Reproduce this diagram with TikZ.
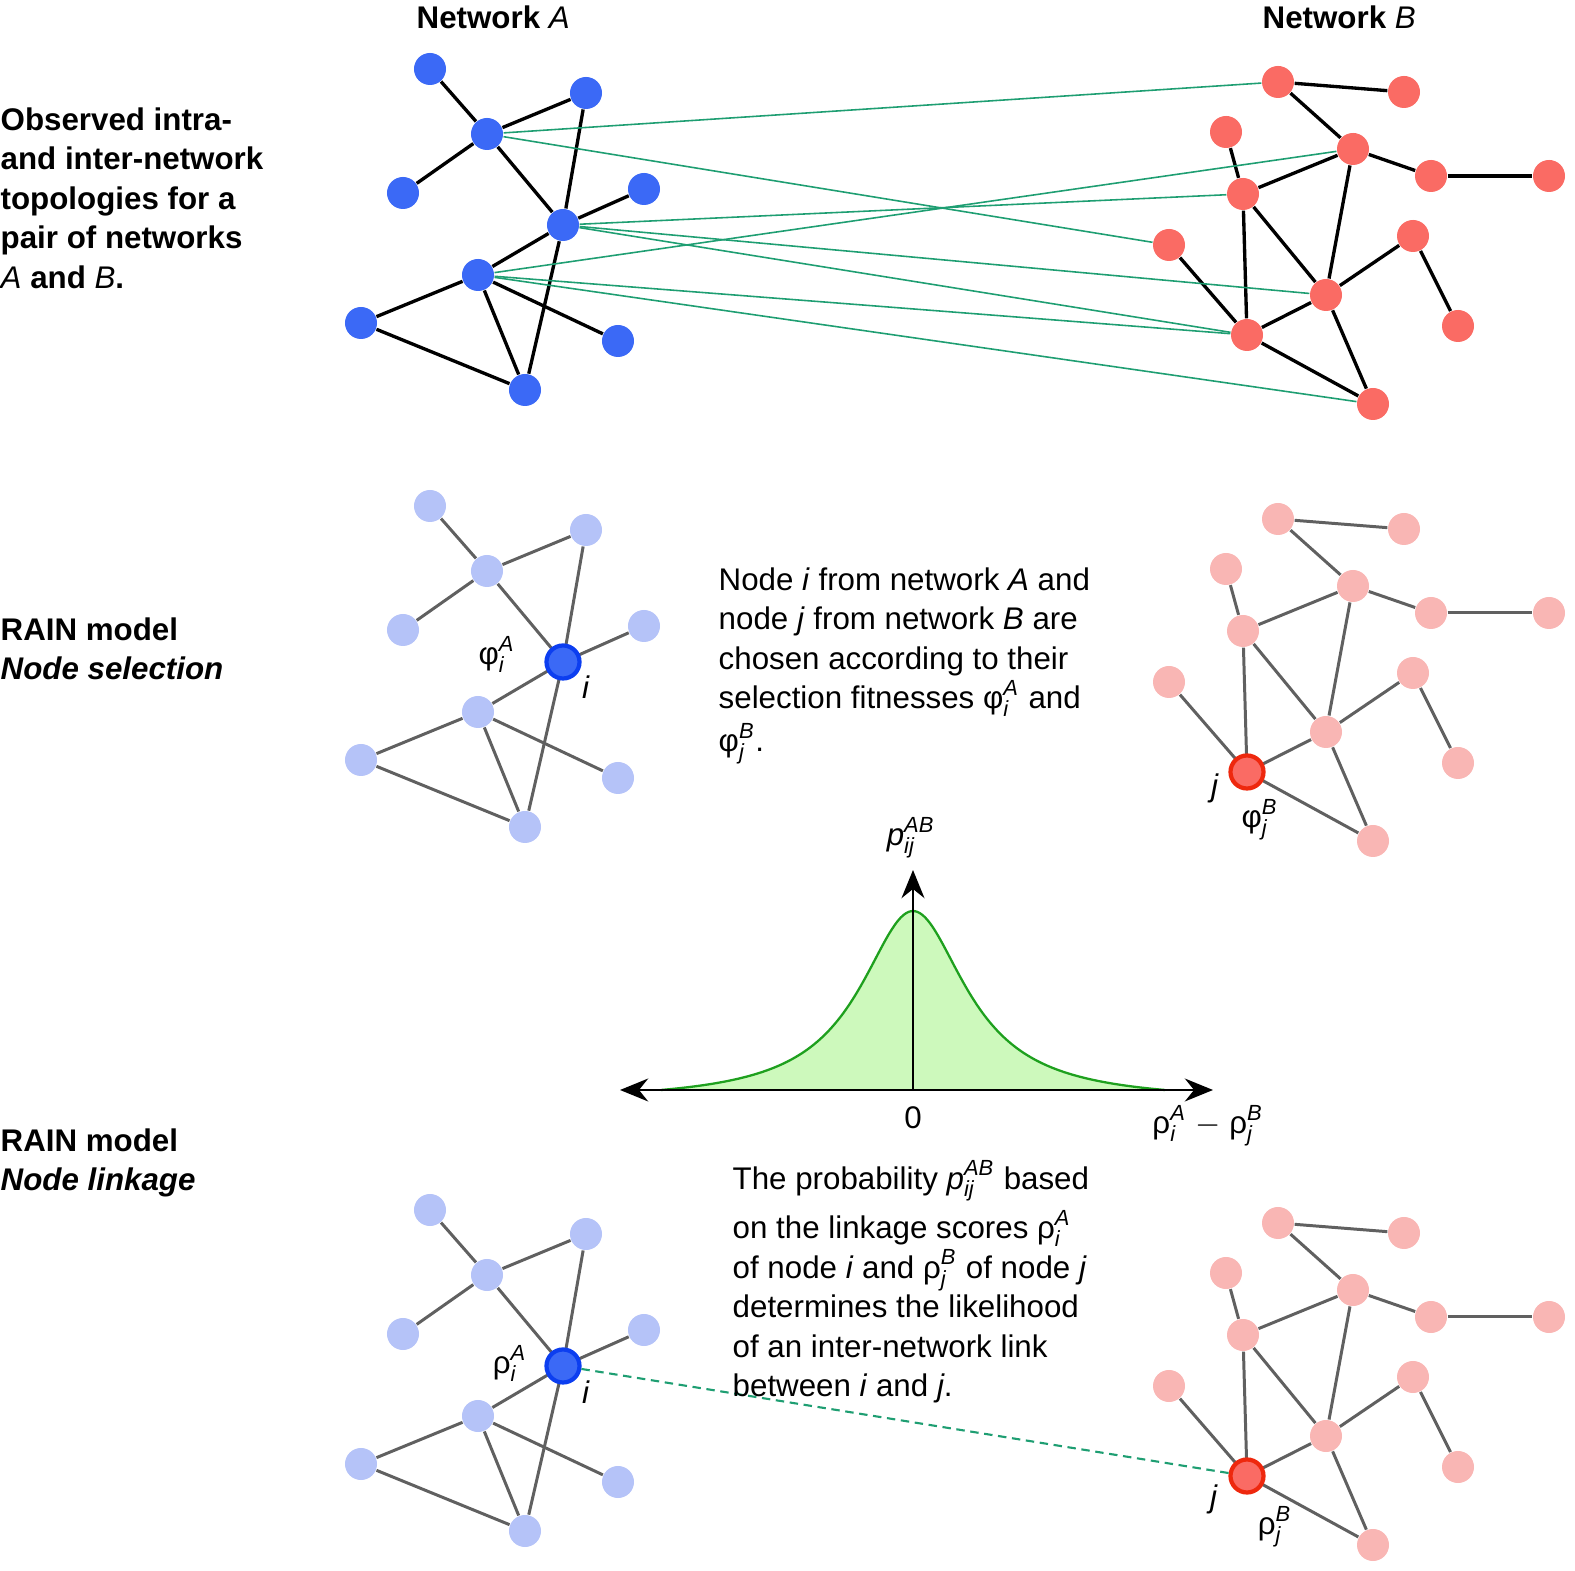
\documentclass[tikz,border=0pt]{standalone}
\usepackage{amsmath}
\usepackage{fontspec}
\setmainfont{Liberation Sans}
\usepackage{tikz}
\usetikzlibrary{arrows.meta, positioning}
\definecolor{netblue}{RGB}{59,105,246}
\definecolor{netred}{RGB}{250,107,100}
\definecolor{paleblue}{RGB}{181,195,248}
\definecolor{palered}{RGB}{249,182,180}
\definecolor{chosenblue}{RGB}{12,62,240}
\definecolor{chosenred}{RGB}{238,40,14}
\definecolor{linkgreen}{RGB}{30,158,114}
\definecolor{curvegreen}{RGB}{30,160,30}
\definecolor{curvefill}{RGB}{205,249,188}
\definecolor{edgegray}{RGB}{96,96,96}
\newcommand{\withidx}[3]{#1$^{\textit{#2}}_{\textit{#3}}$}
\newcommand{\thinit}[1]{\textit{\mdseries #1}}
\tikzset{
  vertex/.style={circle, minimum size=0.32cm, inner sep=0pt},
  chosen/.style={circle, minimum size=0.33cm, inner sep=0pt, line width=1.2pt},
  tie/.style={line width=0.95pt},
  interlink/.style={draw=linkgreen, line width=0.45pt},
  textblock/.style={anchor=north west, inner sep=0pt, align=left},
  note/.style={textblock, font=\fontsize{8.9}{11.24}\selectfont},
  heading/.style={textblock, font=\fontsize{8.9}{11.24}\selectfont\bfseries},
  tag/.style={anchor=base, inner sep=0pt, font=\fontsize{8.9}{11}\selectfont},
  axisline/.style={line width=0.75pt, -{Stealth[length=8pt,width=6.5pt]}}
}

\begin{document}
\begin{tikzpicture}[x=0.01cm, y=-0.01cm]
    \useasboundingbox (0,0) rectangle (1575,1571);

    % the two networks, drawn once per panel
    \foreach \p/\dy/\ca/\cb in {top/0/netblue/netred, sel/437/paleblue/palered, lnk/1141/paleblue/palered}{
      \foreach \n/\px/\py in {a1/430/69, a2/586/93, a3/487/134, a4/403/193, a5/644/189,
          a6/563/225, a7/478/275, a8/361/323, a9/618/341, a10/525/390}
        \node (\p-\n) [vertex, fill=\ca] at (\px,\py+\dy) {};
      \foreach \n/\px/\py in {b1/1278/82, b2/1404/92, b3/1226/132, b4/1353/149, b5/1431/176,
          b6/1549/176, b7/1243/194, b8/1413/236, b9/1169/245, b10/1326/295,
          b11/1458/326, b12/1247/335, b13/1373/404}
        \node (\p-\n) [vertex, fill=\cb] at (\px,\py+\dy) {};
    }
    \foreach \p/\ce/\lw in {top/black/0.95pt, sel/edgegray/0.85pt, lnk/edgegray/0.85pt}{
      \foreach \u/\v in {a1/a3, a3/a2, a3/a4, a3/a6, a2/a6, a6/a5, a6/a7, a6/a10,
          a7/a8, a7/a10, a7/a9, a8/a10,
          b1/b2, b1/b4, b3/b7, b4/b7, b4/b5, b5/b6, b4/b10, b7/b10, b7/b12,
          b9/b12, b12/b10, b10/b8, b8/b11, b10/b13, b12/b13}
        \draw[tie, draw=\ce, line width=\lw] (\p-\u) -- (\p-\v);
    }

    % observed inter-network links
    \foreach \u/\v in {a3/b1, a3/b9, a6/b7, a6/b10, a6/b12, a7/b4, a7/b12, a7/b13}
      \draw[interlink] (top-\u) -- (top-\v);

    % chosen nodes i and j
    \node (sel-i) [chosen, fill=netblue, draw=chosenblue] at (sel-a6) {};
    \node (sel-j) [chosen, fill=netred, draw=chosenred] at (sel-b12) {};
    \node (lnk-i) [chosen, fill=netblue, draw=chosenblue] at (lnk-a6) {};
    \node (lnk-j) [chosen, fill=netred, draw=chosenred] at (lnk-b12) {};
    \draw[interlink, line width=0.6pt, dash pattern=on 2.4pt off 1.6pt] (lnk-i) -- (lnk-j);

    \node (sel-fitA) [tag] at (497,665) {\withidx{φ}{A}{i}};
    \node (sel-iname) [tag] at (586,699) {\textit{i}};
    \node (sel-jname) [tag] at (1215,797) {\textit{j}};
    \node (sel-fitB) [tag] at (1260,828) {\withidx{φ}{B}{j}};
    \node (lnk-scoreA) [tag] at (510,1374) {\withidx{ρ}{A}{i}};
    \node (lnk-iname) [tag] at (586,1404) {\textit{i}};
    \node (lnk-jname) [tag] at (1214,1508) {\textit{j}};
    \node (lnk-scoreB) [tag] at (1275,1535) {\withidx{ρ}{B}{j}};

    % titles and captions
    \node (titleA) [heading] at (416,5) {Network \thinit{A}};
    \node (titleB) [heading] at (1262,5) {Network \thinit{B}};
    \node (obshead) [heading] at (0,107) {Observed intra-\\and inter-network\\topologies for a\\pair of networks\\\thinit{A} and \thinit{B}.};
    \node (selhead) [heading] at (0,617) {RAIN model\\\textit{Node selection}};
    \node (lnkhead) [heading] at (0,1128) {RAIN model\\\textit{Node linkage}};
    \node (seltext) [note] at (718,567) {Node \textit{i} from network \textit{A} and\\node \textit{j} from network \textit{B} are\\chosen according to their\\selection fitnesses \withidx{φ}{A}{i} and\\[1pt]\withidx{φ}{B}{j}.};
    \node (lnktext) [note] at (732,1160) {The probability \withidx{\textit{p}}{AB}{ij} based\\[1.5pt]on the linkage scores \withidx{ρ}{A}{i}\\of node \textit{i} and \withidx{ρ}{B}{j} of node \textit{j}\\determines the likelihood\\of an inter-network link\\between \textit{i} and \textit{j}.};

    % linkage probability curve
    \begin{scope}[shift={(913,1090)}]
      \coordinate (origin) at (0,0);
      \coordinate (xleft) at (-293,0);
      \coordinate (xright) at (300,0);
      \coordinate (ytop) at (0,-220);
      \fill[curvefill] plot[domain=-252:252, samples=121, smooth] (\x,{-179*(1/(1+(\x/65)^2)-0.0624)/0.9376});
      \draw[curvegreen, line width=0.65pt] plot[domain=-252:252, samples=121, smooth] (\x,{-179*(1/(1+(\x/65)^2)-0.0624)/0.9376});
      \draw[axisline, {Stealth[length=8pt,width=6.5pt]}-{Stealth[length=8pt,width=6.5pt]}] (xleft) -- (xright);
      \draw[axisline] (origin) -- (ytop);
    \end{scope}
    \node (pAB) [tag] at (911,846) {\withidx{\textit{p}}{AB}{ij}};
    \node (zero) [tag] at (913,1129) {0};
    \node (diff) [tag] at (1208,1134) {\withidx{ρ}{A}{i}\ $-$\ \withidx{ρ}{B}{j}};
\end{tikzpicture}
\end{document}
